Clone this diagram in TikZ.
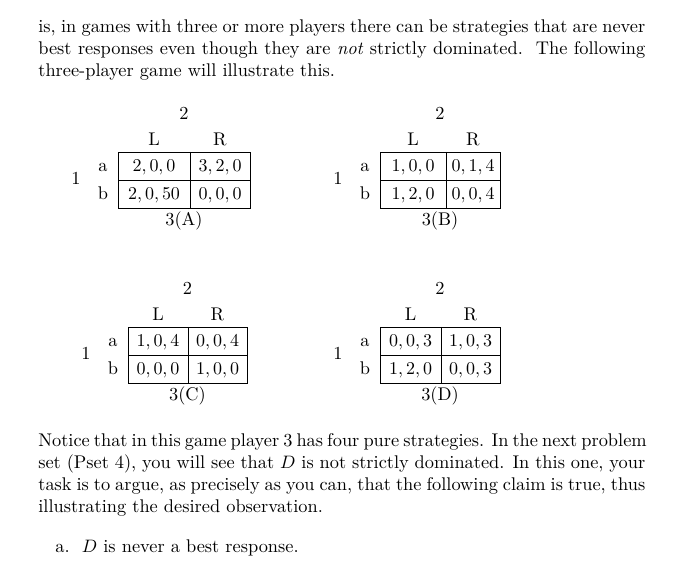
\documentclass[tikz,border=0pt]{standalone}
\begin{document}
\begin{tikzpicture}[x=0.5556pt,y=-0.5556pt,every node/.style={inner sep=0pt,font=\fontsize{10.2}{12}\selectfont},
 txt/.style={anchor=base west}, cell/.style={anchor=base}]
\useasboundingbox (0,0) rectangle (700,568);
\node[txt] (t1) at (38,33) {\makebox[337.2pt][s]{is, in games with three or more players there can be strategies that are never}};
\node[txt] (t2) at (38,55) {\makebox[337.2pt][s]{best responses even though they are \textit{not} strictly dominated.\ \ The following}};
\node[txt] (t3) at (38,77) {three-player game will illustrate this.};
\node[txt] (p1) at (38,447) {\makebox[337.2pt][s]{Notice that in this game player 3 has four pure strategies. In the next problem}};
\node[txt] (p2) at (38,469) {\makebox[337.2pt][s]{set (Pset 4), you will see that $D$ is not strictly dominated. In this one, your}};
\node[txt] (p3) at (38,491) {\makebox[337.2pt][s]{task is to argue, as precisely as you can, that the following claim is true, thus}};
\node[txt] (p4) at (38,513) {illustrating the desired observation.};
\node[txt] (q) at (55,553) {a.\ \ $D$ is never a best response.};
\foreach \bx/\by/\dv/\rx/\ttl/\aa/\ab/\ba/\bb in
 {118/152/190/250/3(A)/{2,0,0}/{3,2,0}/{2,0,50}/{0,0,0},
  380/152/446/500/3(B)/{1,0,0}/{0,1,4}/{1,2,0}/{0,0,4},
  128/327/188/247/3(C)/{1,0,4}/{0,0,4}/{0,0,0}/{1,0,0},
  380/327/441/500/3(D)/{0,0,3}/{1,0,3}/{1,2,0}/{0,0,3}}{
 \pgfmathsetmacro{\cl}{(\bx+\dv)/2}
 \pgfmathsetmacro{\cr}{(\dv+\rx)/2}
 \pgfmathsetmacro{\cm}{(\bx+\rx)/2}
 \draw[line width=0.5pt] (\bx,\by) rectangle (\rx,\by+56);
 \draw[line width=0.5pt] (\bx,\by+28) -- (\rx,\by+28);
 \draw[line width=0.5pt] (\dv,\by) -- (\dv,\by+56);
 \node[cell] at (\cm,\by-32) {2};
 \node[cell] at (\cl,\by-6) {L};
 \node[cell] at (\cr,\by-6) {R};
 \node[cell] at (\bx-15,\by+20) {a};
 \node[cell] at (\bx-15,\by+48) {b};
 \node[cell] at (\bx-42,\by+33) {1};
 \node[cell] at (\cl,\by+20) {$\aa$};
 \node[cell] at (\cr,\by+20) {$\ab$};
 \node[cell] at (\cl,\by+48) {$\ba$};
 \node[cell] at (\cr,\by+48) {$\bb$};
 \node[cell] at (\cm,\by+74) {\ttl};
}
\end{tikzpicture}
\end{document}
